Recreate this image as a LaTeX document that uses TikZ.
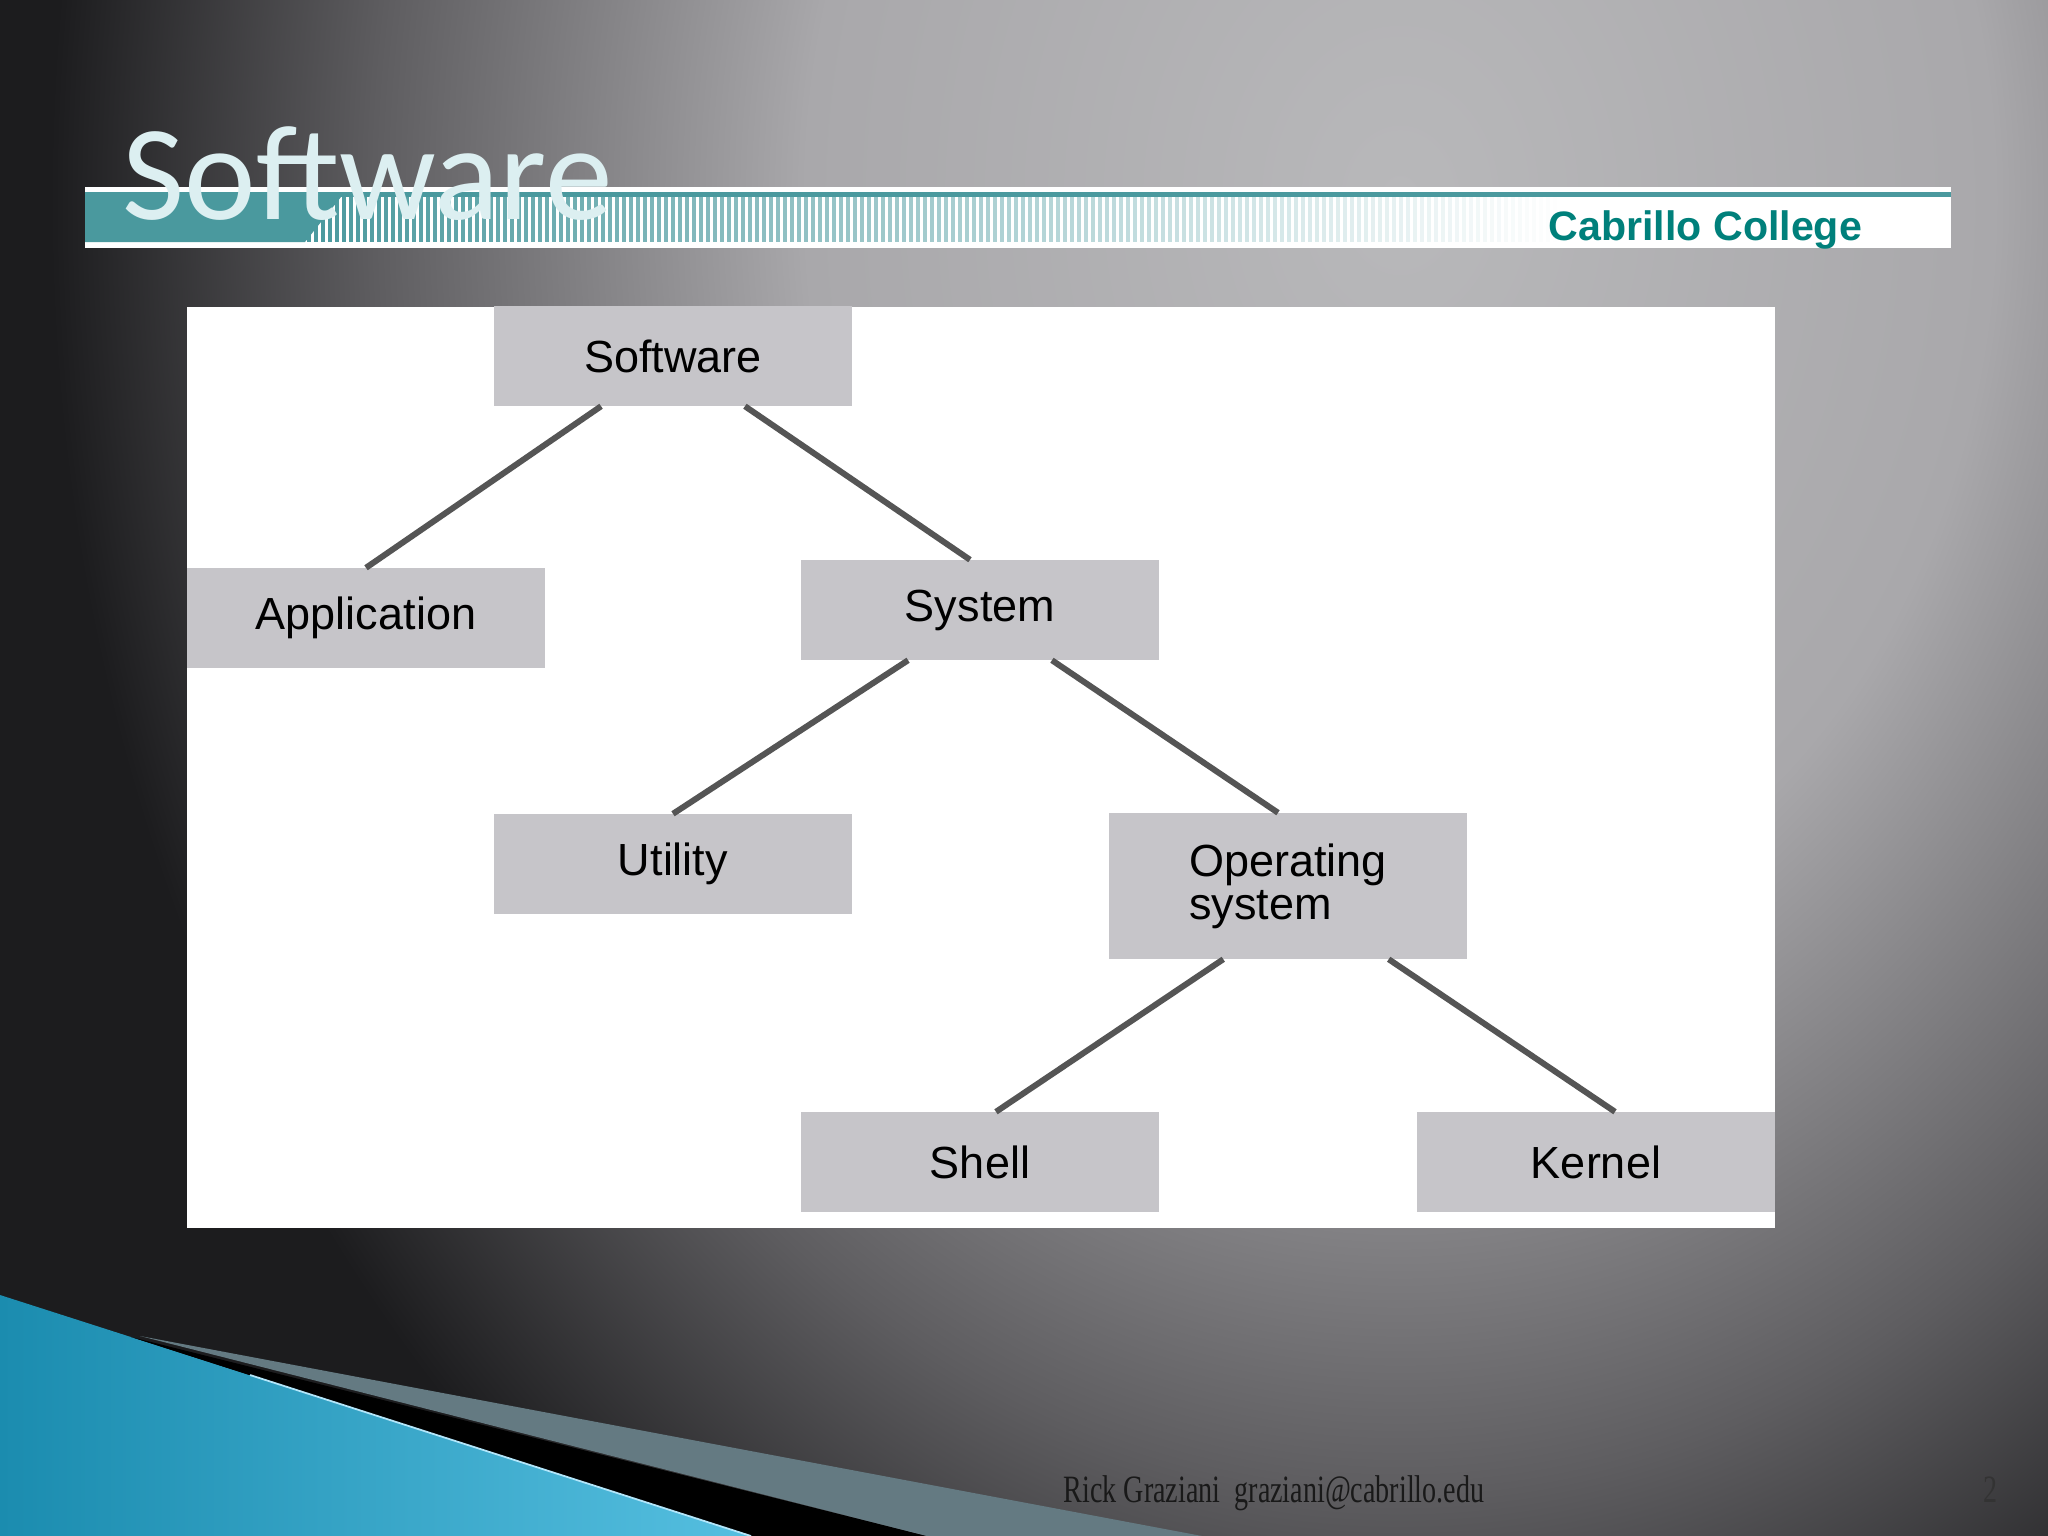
\documentclass[tikz,border=0pt]{standalone}
\usepackage{fontspec}
\usepackage{xcolor}
\usepackage{tikz}
\usetikzlibrary{calc}

\setmainfont{Liberation Sans}
\newfontfamily\titlefont{Carlito}
\newfontfamily\footfont{Liberation Serif}

\definecolor{bgA}{HTML}{B8B8BA}
\definecolor{bgB}{HTML}{A9A8AB}
\definecolor{bgC}{HTML}{5E5D60}
\definecolor{bgD}{HTML}{1C1C1E}
\definecolor{barteal}{HTML}{4A999E}
\definecolor{collegeteal}{HTML}{00807B}
\definecolor{titlecol}{HTML}{DCEFF1}
\definecolor{boxgray}{HTML}{C6C5C9}
\definecolor{linegray}{HTML}{555555}
\definecolor{wedgedark}{HTML}{1B8CAF}
\definecolor{wedgelight}{HTML}{55BFE0}
\definecolor{stripegray}{HTML}{647A82}

\pgfdeclareradialshading{slideglow}{\pgfpoint{0bp}{0bp}}{%
  color(0bp)=(bgA); color(5.5bp)=(bgB); color(9.5bp)=(bgC); color(12.5bp)=(bgD); color(50bp)=(bgD)}

\begin{document}
\begin{tikzpicture}[
  x=0.01cm, y=-0.01cm,
  blok/.style={fill=boxgray, minimum width=3.58cm, minimum height=0.99cm,
               inner sep=0pt, font=\fontsize{12.8}{12.2}\selectfont},
  tak/.style={draw=linegray, line width=1.7pt},
  titel/.style={font=\titlefont\fontsize{38.5}{40}\selectfont, text=titlecol,
                anchor=base west, inner sep=0pt},
  voet/.style={font=\footfont\fontsize{11}{12}\selectfont, anchor=base, inner sep=0pt}
]
\useasboundingbox (0,0) rectangle (2048,1536);
\clip (0,0) rectangle (2048,1536);

% ---------- Achtergrond ----------
\fill[shading=slideglow] (1400,200) ellipse [x radius=2700, y radius=3400];

% ---------- Hoek linksonder ----------
\shade[left color=wedgedark, right color=wedgelight] (0,1295) -- (751,1536) -- (0,1536) -- cycle;
\fill[black] (131,1337) -- (927,1536) -- (751,1536) -- cycle;
\fill[stripegray] (140,1336) -- (1202,1536) -- (927,1536) -- cycle;
\draw[white!70!cyan, line width=0.5pt] (250,1375) -- (751,1536);

% ---------- Titelbalk ----------
\fill[white] (85,187) rectangle (1951,248);
\fill[barteal] (85,192) rectangle (1951,197);
\fill[barteal] (85,192) -- (345,192) -- (305,242) -- (85,242) -- cycle;
\foreach \k in {0,...,180} {
  \pgfmathsetmacro\sx{300+7*\k}
  \pgfmathsetmacro\op{max(0,1-\k/180)}
  \fill[barteal, opacity=\op] (\sx,197) rectangle ++(3.5,45);
}
\node[titel] (titel) at (122,219) {Software};
\node[anchor=base west, inner sep=0pt, text=collegeteal,
      font=\bfseries\fontsize{11.7}{13}\selectfont] (college) at (1548,240) {Cabrillo College};

% ---------- Diagram ----------
\fill[white] (187,307) rectangle (1775,1228);

\node[blok] (soft)  at (673,356)  {Software};
\node[blok] (app)   at (366,618)  {Application};
\node[blok] (sys)   at (980,610)  {System};
\node[blok] (util)  at (673,864)  {Utility};
\node[blok, minimum height=1.45cm, align=left] (os) at (1288,886) {Operating\\system};
\node[blok] (shell) at (980,1162) {Shell};
\node[blok] (kern)  at (1596,1162) {Kernel};

\draw[tak] ($(soft.south west)!.3!(soft.south east)$) -- (app.north);
\draw[tak] ($(soft.south west)!.7!(soft.south east)$) -- ($(sys.north)+(-10,0)$);
\draw[tak] ($(sys.south west)!.3!(sys.south east)$) -- (util.north);
\draw[tak] ($(sys.south west)!.7!(sys.south east)$) -- ($(os.north)+(-10,0)$);
\draw[tak] ($(os.south west)!.32!(os.south east)$) -- ($(shell.north)+(16,0)$);
\draw[tak] ($(os.south west)!.78!(os.south east)$) -- ($(kern.north)+(19,0)$);

% ---------- Voettekst ----------
\node[voet, text=black!90] (auteur) at (1274,1502) {\scalebox{0.726}[1]{Rick Graziani\ \ graziani@cabrillo.edu}};
\node[voet, text=black!80] (nummer) at (1990,1502) {\scalebox{0.726}[1]{2}};

\end{tikzpicture}
\end{document}
